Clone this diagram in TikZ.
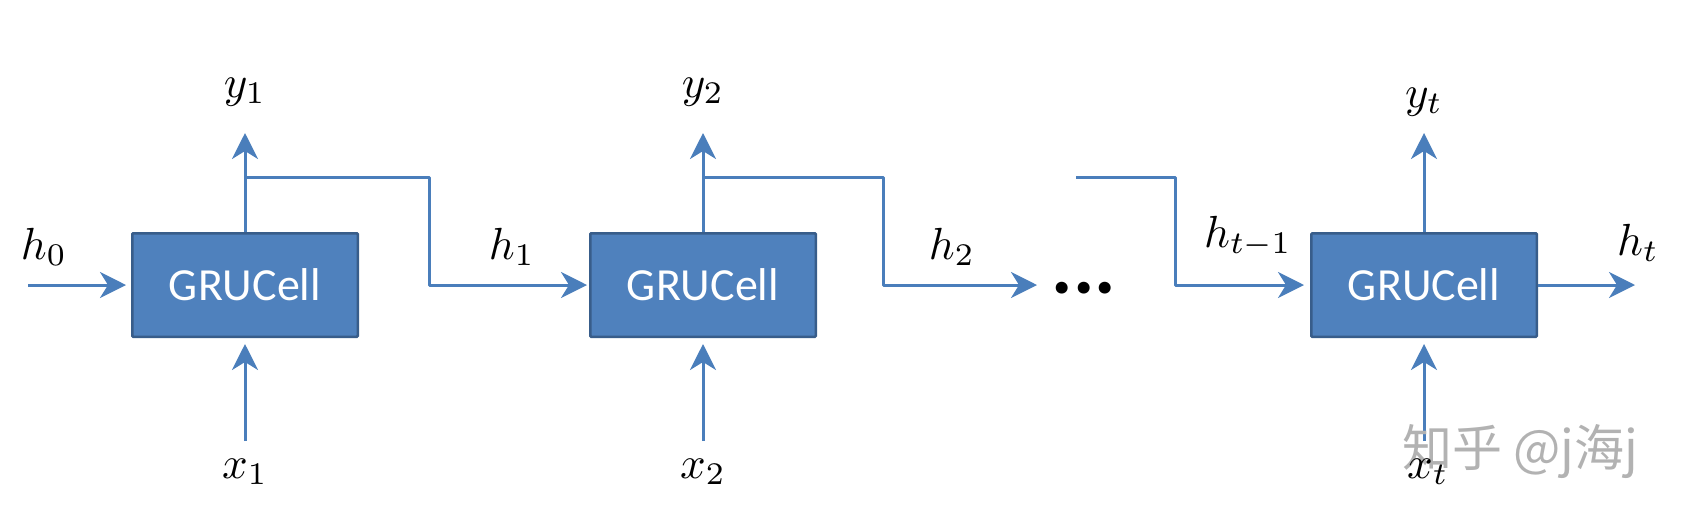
\documentclass[tikz,border=0pt]{standalone}
\usepackage{fontspec}
\newfontfamily\calibri{Carlito}
\newfontfamily\cjk{Noto Sans CJK SC}
\usetikzlibrary{arrows.meta}
\definecolor{boxfill}{HTML}{4F81BD}
\definecolor{boxline}{HTML}{385D8A}
\definecolor{arr}{HTML}{4A7EBB}
\definecolor{wmgray}{HTML}{B2B2B2}
\newcommand{\bigmath}[1]{\scalebox{4.5}{$#1$}}
\begin{document}
\begin{tikzpicture}[x=1pt,y=-1pt,
  cell/.style={draw=boxline, line width=2.5pt, fill=boxfill,
    minimum width=225.5pt, minimum height=103.5pt, inner sep=0pt,
    text=white, font=\calibri\fontsize{46}{50}\selectfont, rounded corners=1pt},
  conn/.style={draw=arr, line width=3pt, line join=round,
    -{Stealth[length=26pt,width=26pt,inset=8pt]}},
  lab/.style={inner sep=0pt, anchor=base},
  wmark/.style={text=wmgray, font=\cjk\fontsize{50}{50}\selectfont, inner sep=0pt}
]
\useasboundingbox (0,0) rectangle (1684,523);
% cells
\node[cell] (c1) at (245,285) {GRUCell};
\node[cell] (c2) at (703,285) {GRUCell};
\node[cell] (c3) at (1424,285) {GRUCell};
% coordinates
\coordinate (h0s) at (28,285);
\coordinate (y1t) at (245,133);
\coordinate (y2t) at (703,133);
\coordinate (ytt) at (1424,133);
\coordinate (x1s) at (245,441);
\coordinate (x2s) at (703,441);
\coordinate (xts) at (1424,441);
\coordinate (b1) at (245,177);
\coordinate (k1) at (429,285);
\coordinate (b2) at (703,177);
\coordinate (k2) at (883,285);
\coordinate (e2) at (1037,285);
\coordinate (s3) at (1076,177);
\coordinate (k3) at (1175,285);
\coordinate (hte) at (1635,285);
% connectors
\draw[conn, shorten >=5pt] (h0s) -- (c1.west);
\draw[conn] (c1.north) -- (y1t);
\draw[conn] (c2.north) -- (y2t);
\draw[conn] (c3.north) -- (ytt);
\draw[conn, shorten >=6pt] (x1s) -- (c1.south);
\draw[conn, shorten >=6pt] (x2s) -- (c2.south);
\draw[conn, shorten >=6pt] (xts) -- (c3.south);
\draw[conn, shorten >=2pt] (b1) -| (k1) -- (c2.west);
\draw[conn] (b2) -| (k2) -- (e2);
\draw[conn, shorten >=6pt] (s3) -| (k3) -- (c3.west);
\draw[conn] (c3.east) -- (hte);
% watermark
\node[wmark] (wm) at (1520,452) {知乎 @j海j};
% labels
\node[lab] (lh0) at (44,259) {\bigmath{h_0}};
\node[lab] (lh1) at (512,259) {\bigmath{h_1}};
\node[lab] (lh2) at (952,259) {\bigmath{h_2}};
\node[lab] (lhtm) at (1248,247) {\bigmath{h_{t-1}}};
\node[lab] (lht) at (1638,255) {\bigmath{h_t}};
\node[lab] (ly1) at (245,97) {\bigmath{y_1}};
\node[lab] (ly2) at (703,97) {\bigmath{y_2}};
\node[lab] (lyt) at (1424,107) {\bigmath{y_t}};
\node[lab] (lx1) at (245,478) {\bigmath{x_1}};
\node[lab] (lx2) at (703,478) {\bigmath{x_2}};
\node[lab] (lxt) at (1428,478) {\bigmath{x_t}};
\node[inner sep=0pt, anchor=base, font=\calibri\bfseries\fontsize{80}{84}\selectfont] (dots) at (1084,293) {...};
\end{tikzpicture}
\end{document}
